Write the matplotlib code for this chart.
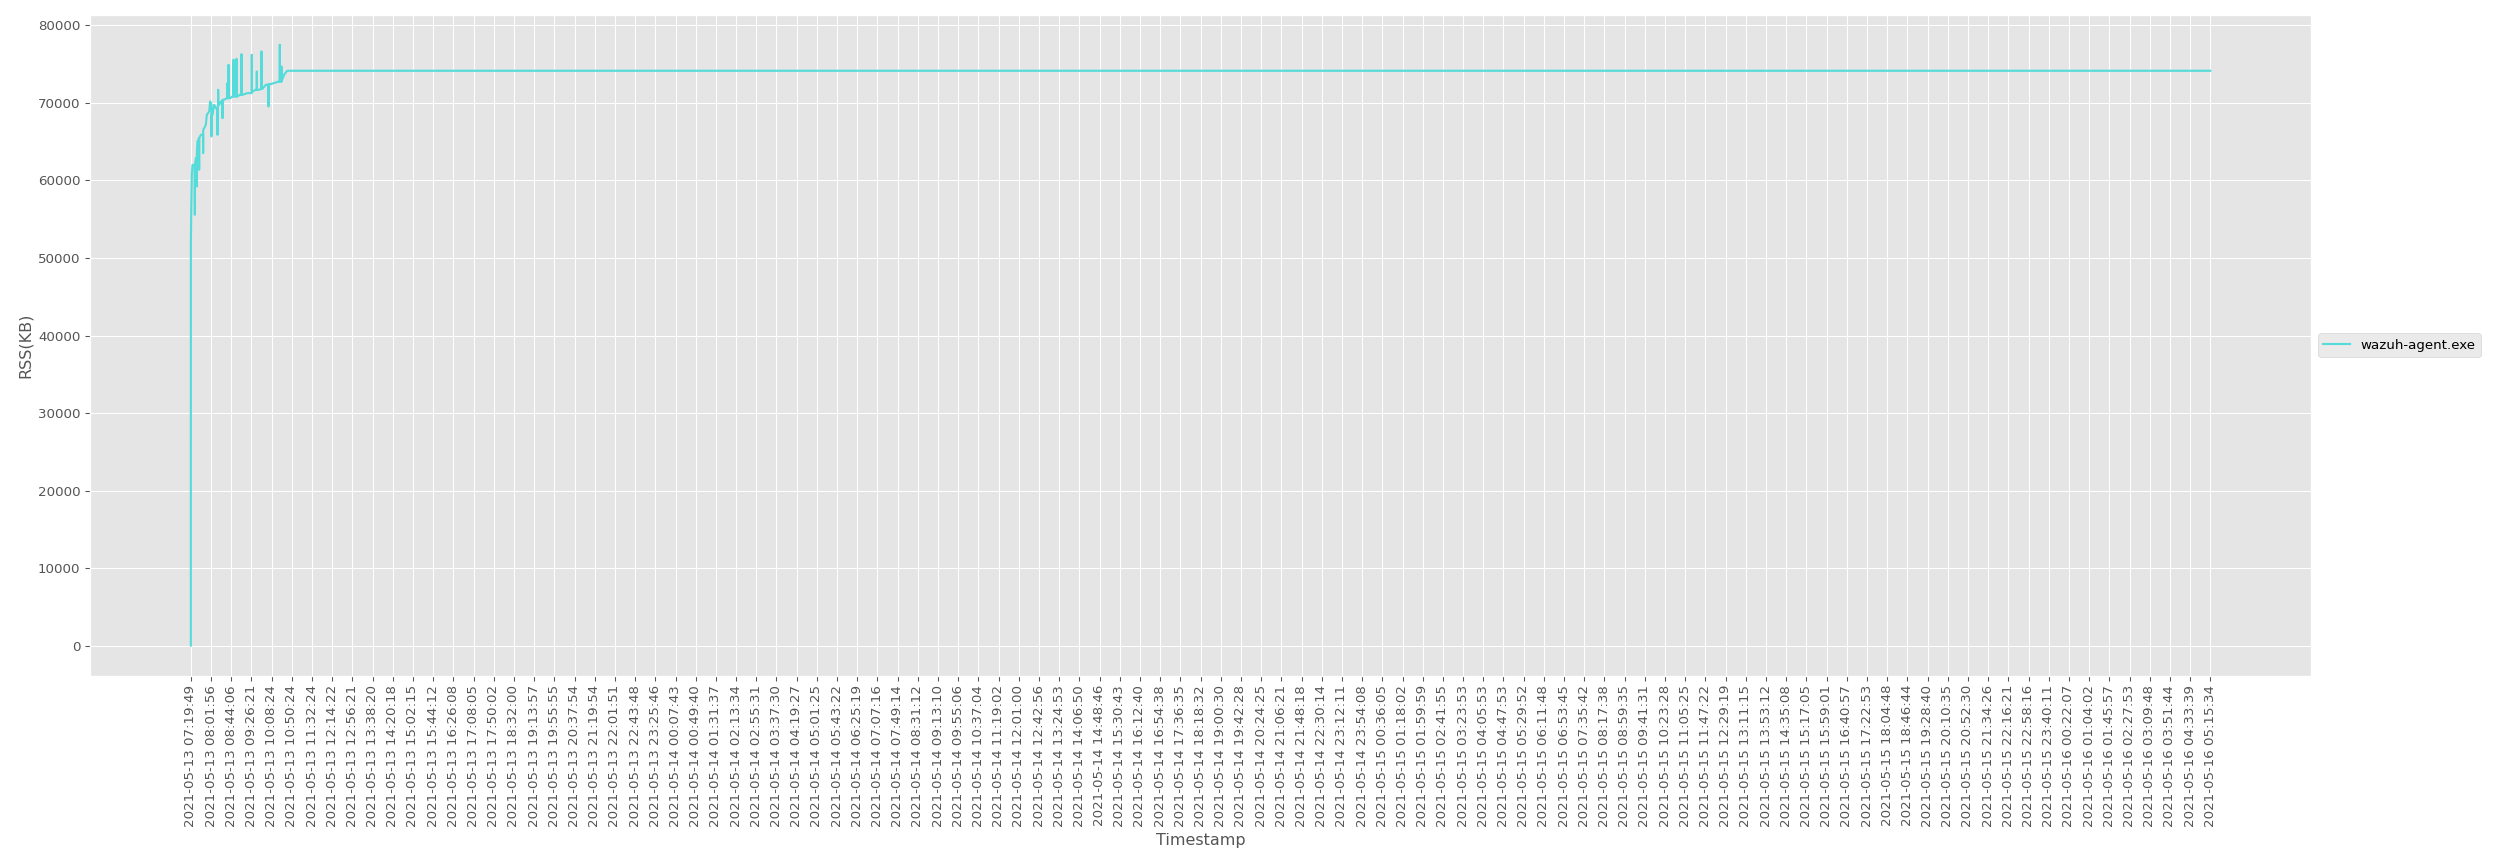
import matplotlib
matplotlib.use('Agg')
import matplotlib.pyplot as plt

plt.style.use('ggplot')

# one x tick every 500 samples
tick_step = 500

tick_label = [
    '2021-05-13 07:19:49', '2021-05-13 08:01:56', '2021-05-13 08:44:06', '2021-05-13 09:26:21',
    '2021-05-13 10:08:24', '2021-05-13 10:50:24', '2021-05-13 11:32:24', '2021-05-13 12:14:22',
    '2021-05-13 12:56:21', '2021-05-13 13:38:20', '2021-05-13 14:20:18', '2021-05-13 15:02:15',
    '2021-05-13 15:44:12', '2021-05-13 16:26:08', '2021-05-13 17:08:05', '2021-05-13 17:50:02',
    '2021-05-13 18:32:00', '2021-05-13 19:13:57', '2021-05-13 19:55:55', '2021-05-13 20:37:54',
    '2021-05-13 21:19:54', '2021-05-13 22:01:51', '2021-05-13 22:43:48', '2021-05-13 23:25:46',
    '2021-05-14 00:07:43', '2021-05-14 00:49:40', '2021-05-14 01:31:37', '2021-05-14 02:13:34',
    '2021-05-14 02:55:31', '2021-05-14 03:37:30', '2021-05-14 04:19:27', '2021-05-14 05:01:25',
    '2021-05-14 05:43:22', '2021-05-14 06:25:19', '2021-05-14 07:07:16', '2021-05-14 07:49:14',
    '2021-05-14 08:31:12', '2021-05-14 09:13:10', '2021-05-14 09:55:06', '2021-05-14 10:37:04',
    '2021-05-14 11:19:02', '2021-05-14 12:01:00', '2021-05-14 12:42:56', '2021-05-14 13:24:53',
    '2021-05-14 14:06:50', '2021-05-14 14:48:46', '2021-05-14 15:30:43', '2021-05-14 16:12:40',
    '2021-05-14 16:54:38', '2021-05-14 17:36:35', '2021-05-14 18:18:32', '2021-05-14 19:00:30',
    '2021-05-14 19:42:28', '2021-05-14 20:24:25', '2021-05-14 21:06:21', '2021-05-14 21:48:18',
    '2021-05-14 22:30:14', '2021-05-14 23:12:11', '2021-05-14 23:54:08', '2021-05-15 00:36:05',
    '2021-05-15 01:18:02', '2021-05-15 01:59:59', '2021-05-15 02:41:55', '2021-05-15 03:23:53',
    '2021-05-15 04:05:53', '2021-05-15 04:47:53', '2021-05-15 05:29:52', '2021-05-15 06:11:48',
    '2021-05-15 06:53:45', '2021-05-15 07:35:42', '2021-05-15 08:17:38', '2021-05-15 08:59:35',
    '2021-05-15 09:41:31', '2021-05-15 10:23:28', '2021-05-15 11:05:25', '2021-05-15 11:47:22',
    '2021-05-15 12:29:19', '2021-05-15 13:11:15', '2021-05-15 13:53:12', '2021-05-15 14:35:08',
    '2021-05-15 15:17:05', '2021-05-15 15:59:01', '2021-05-15 16:40:57', '2021-05-15 17:22:53',
    '2021-05-15 18:04:48', '2021-05-15 18:46:44', '2021-05-15 19:28:40', '2021-05-15 20:10:35',
    '2021-05-15 20:52:30', '2021-05-15 21:34:26', '2021-05-15 22:16:21', '2021-05-15 22:58:16',
    '2021-05-15 23:40:11', '2021-05-16 00:22:07', '2021-05-16 01:04:02', '2021-05-16 01:45:57',
    '2021-05-16 02:27:53', '2021-05-16 03:09:48', '2021-05-16 03:51:44', '2021-05-16 04:33:39',
    '2021-05-16 05:15:34',
]

# sample index -> RSS in KB
sample = [0, 1, 10, 25, 41, 98, 99, 100, 124, 148, 149, 150, 165, 205, 206, 207,
          248, 304, 305, 306, 371, 396, 454, 479, 511, 512, 513, 536, 578, 619,
          659, 660, 661, 676, 677, 678, 701, 743, 783, 784, 785, 825, 891, 907,
          908, 909, 931, 932, 933, 974, 1031, 1055, 1056, 1057, 1097, 1129, 1130,
          1131, 1155, 1213, 1253, 1254, 1255, 1279, 1403, 1509, 1510, 1511, 1526,
          1609, 1633, 1634, 1635, 1691, 1748, 1749, 1750, 1774, 1856, 1921, 1922,
          1923, 1980, 2104, 2186, 2202, 2203, 2204, 2228, 2243, 2244, 2245, 2269,
          2310, 2368, 2393, 50000]
rss = [0, 52000, 56000, 60700, 62000, 62000, 55570, 62000, 62880, 62880, 59230,
       63500, 65030, 65460, 61380, 65460, 65890, 65890, 63530, 66500, 67180, 68470,
       68900, 70190, 69800, 65680, 68470, 68470, 69760, 69330, 69330, 65890, 69330,
       69760, 71700, 69760, 69760, 70190, 70190, 68040, 70410, 70410, 70620, 70620,
       72560, 70620, 70620, 74920, 70620, 70620, 70840, 70840, 75570, 70840, 70840,
       70840, 75700, 70840, 70840, 71050, 71050, 76300, 71050, 71050, 71270, 71270,
       76210, 71480, 71480, 71700, 71700, 74060, 71700, 71700, 71830, 76650, 71830,
       71830, 72340, 72340, 69550, 72430, 72430, 72650, 72770, 72770, 77510, 72770,
       72770, 72770, 74710, 72770, 73120, 73630, 74060, 74150, 74150]

fig, ax = plt.subplots(figsize=(26, 9), dpi=96)
fig.subplots_adjust(left=0.036, right=0.926, top=0.983, bottom=0.218)

ax.plot(sample, rss, color='#55dbd9', linewidth=1.6, label='wazuh-agent.exe')

ax.set_xticks(range(0, len(tick_label) * tick_step, tick_step))
ax.set_xticklabels(tick_label, rotation=90)
ax.set_xlabel('Timestamp')
ax.set_ylabel('RSS(KB)')
ax.legend(loc='center left', bbox_to_anchor=(1, 0.5))

fig.savefig('out.png', dpi=96)
